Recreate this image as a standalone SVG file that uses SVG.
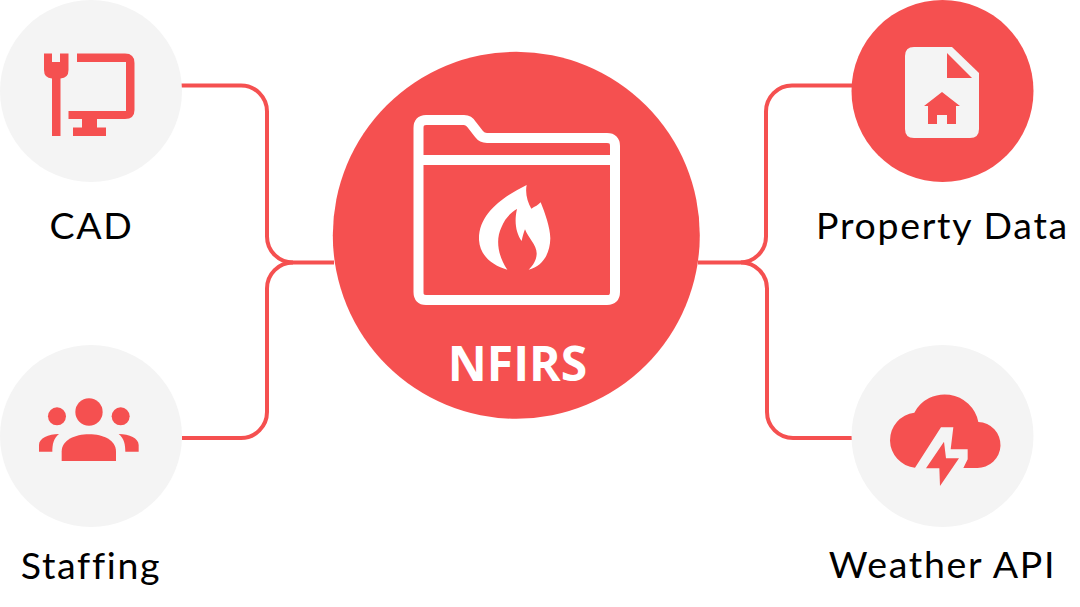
<svg xmlns="http://www.w3.org/2000/svg" width="1080" height="607" viewBox="0 0 1080 607">
<style>
.c{fill:none;stroke:#f55050;stroke-width:4}
.red{fill:#f55050}
.grey{fill:#f4f4f4}
.l{font-family:Lato,"Noto Sans",sans-serif;font-size:37.500px;fill:#000;text-anchor:middle;letter-spacing:1.700px}
</style>
<rect width="1080" height="607" fill="#fff"/>
<g id="connectors">
<path class="c" d="M181 85.500H241A26 26 0 0 1 267 111.500V236.500A26 26 0 0 0 293 262.500H334"/>
<path class="c" d="M182 438H241A26 26 0 0 0 267 412V288.500A26 26 0 0 1 293 262.500"/>
<path class="c" d="M853 85.500H792A26 26 0 0 0 766 111.500V236.500A26 26 0 0 1 740 262.500H698"/>
<path class="c" d="M852 438H793A26 26 0 0 1 767 412V288.500A26 26 0 0 0 741 262.500"/>
</g>
<g id="cad">
<circle class="grey" cx="91" cy="91" r="91"/>
<path class="red" d="M44 53.500H52V62H60V53.500H68.500V70Q68.500 78 60.500 78.500V136H52V78.500Q44 78 44 70Z"/>
<path class="red" d="M77 53.500H125Q134.500 53.500 134.500 63V110Q134.500 119 125 119H68.500V111H126V62H77Z"/>
<path class="red" d="M82 119H97V127.500H106V136H73V127.500H82Z"/>
<text class="l" x="91.500" y="239">CAD</text>
</g>
<g id="staffing">
<circle class="grey" cx="91" cy="436" r="91"/>
<g class="red" transform="translate(20 380) scale(.33333)">
<circle cx="207" cy="96" r="41"/><circle cx="111" cy="109" r="27"/><circle cx="302" cy="109" r="27"/>
<path d="M125 243V215C125 180 165 163 207 163C250 163 288 180 288 215V243Z"/>
<path d="M57 215V195C57 175 85 162 117 162C100 175 97 195 97 215Z"/>
<path d="M356 215V195C356 175 328 162 296 162C313 175 316 195 316 215Z"/>
</g>
<text class="l" x="91" y="579">Staffing</text>
</g>
<g id="nfirs">
<circle class="red" cx="516.300" cy="235.300" r="183.500"/>
<path d="M418.500 160V128Q418.500 120 426 120H464Q469 120 472 125L479 134Q482 138 487 138H607Q615 138 615 146V292Q615 300 607 300H426Q418.500 300 418.500 292ZM418.500 160H615" fill="none" stroke="#fff" stroke-width="10"/>
<path fill="#fff" transform="translate(390 100) scale(.33333)" d="M410 255C340 290 265 340 267 420C270 470 310 497 352 509C325 470 315 420 335 380C345 355 365 335 381 327C372 365 378 400 395 423C398 410 400 400 405 388C415 415 440 435 440 460C440 480 430 495 416 509C455 500 480 465 481 415C480 380 465 340 452 307C445 315 435 320 424 326C412 305 405 280 410 255Z"/>
<text x="517.500" y="381" font-family="'Open Sans',sans-serif" font-size="48" font-weight="700" fill="#fff" text-anchor="middle">NFIRS</text>
</g>
<g id="property-data">
<circle class="red" cx="942.500" cy="91" r="91"/>
<path class="grey" d="M952 47H914Q905 47 905 56V129Q905 138 914 138H970Q979 138 979 129V73Z"/>
<path class="red" d="M947 53V78H972Z"/>
<path class="red" d="M942 92L960 106H956V124H947V115H937V124H928V106H924Z"/>
<text class="l" x="942.500" y="239">Property Data</text>
</g>
<g id="weather-api">
<circle class="grey" cx="942.500" cy="436" r="91"/>
<g class="red" transform="translate(860 370) scale(.33333)">
<path d="M165 293A83 83 0 0 1 163 128A103 103 0 0 1 355 156A69 69 0 0 1 350 294H310L323 268V238H272L280 172H243Z"/>
<path d="M198 295L252 215L258 265H297L240 348L238 295Z"/>
</g>
<text class="l" x="942.500" y="578">Weather API</text>
</g>
</svg>
